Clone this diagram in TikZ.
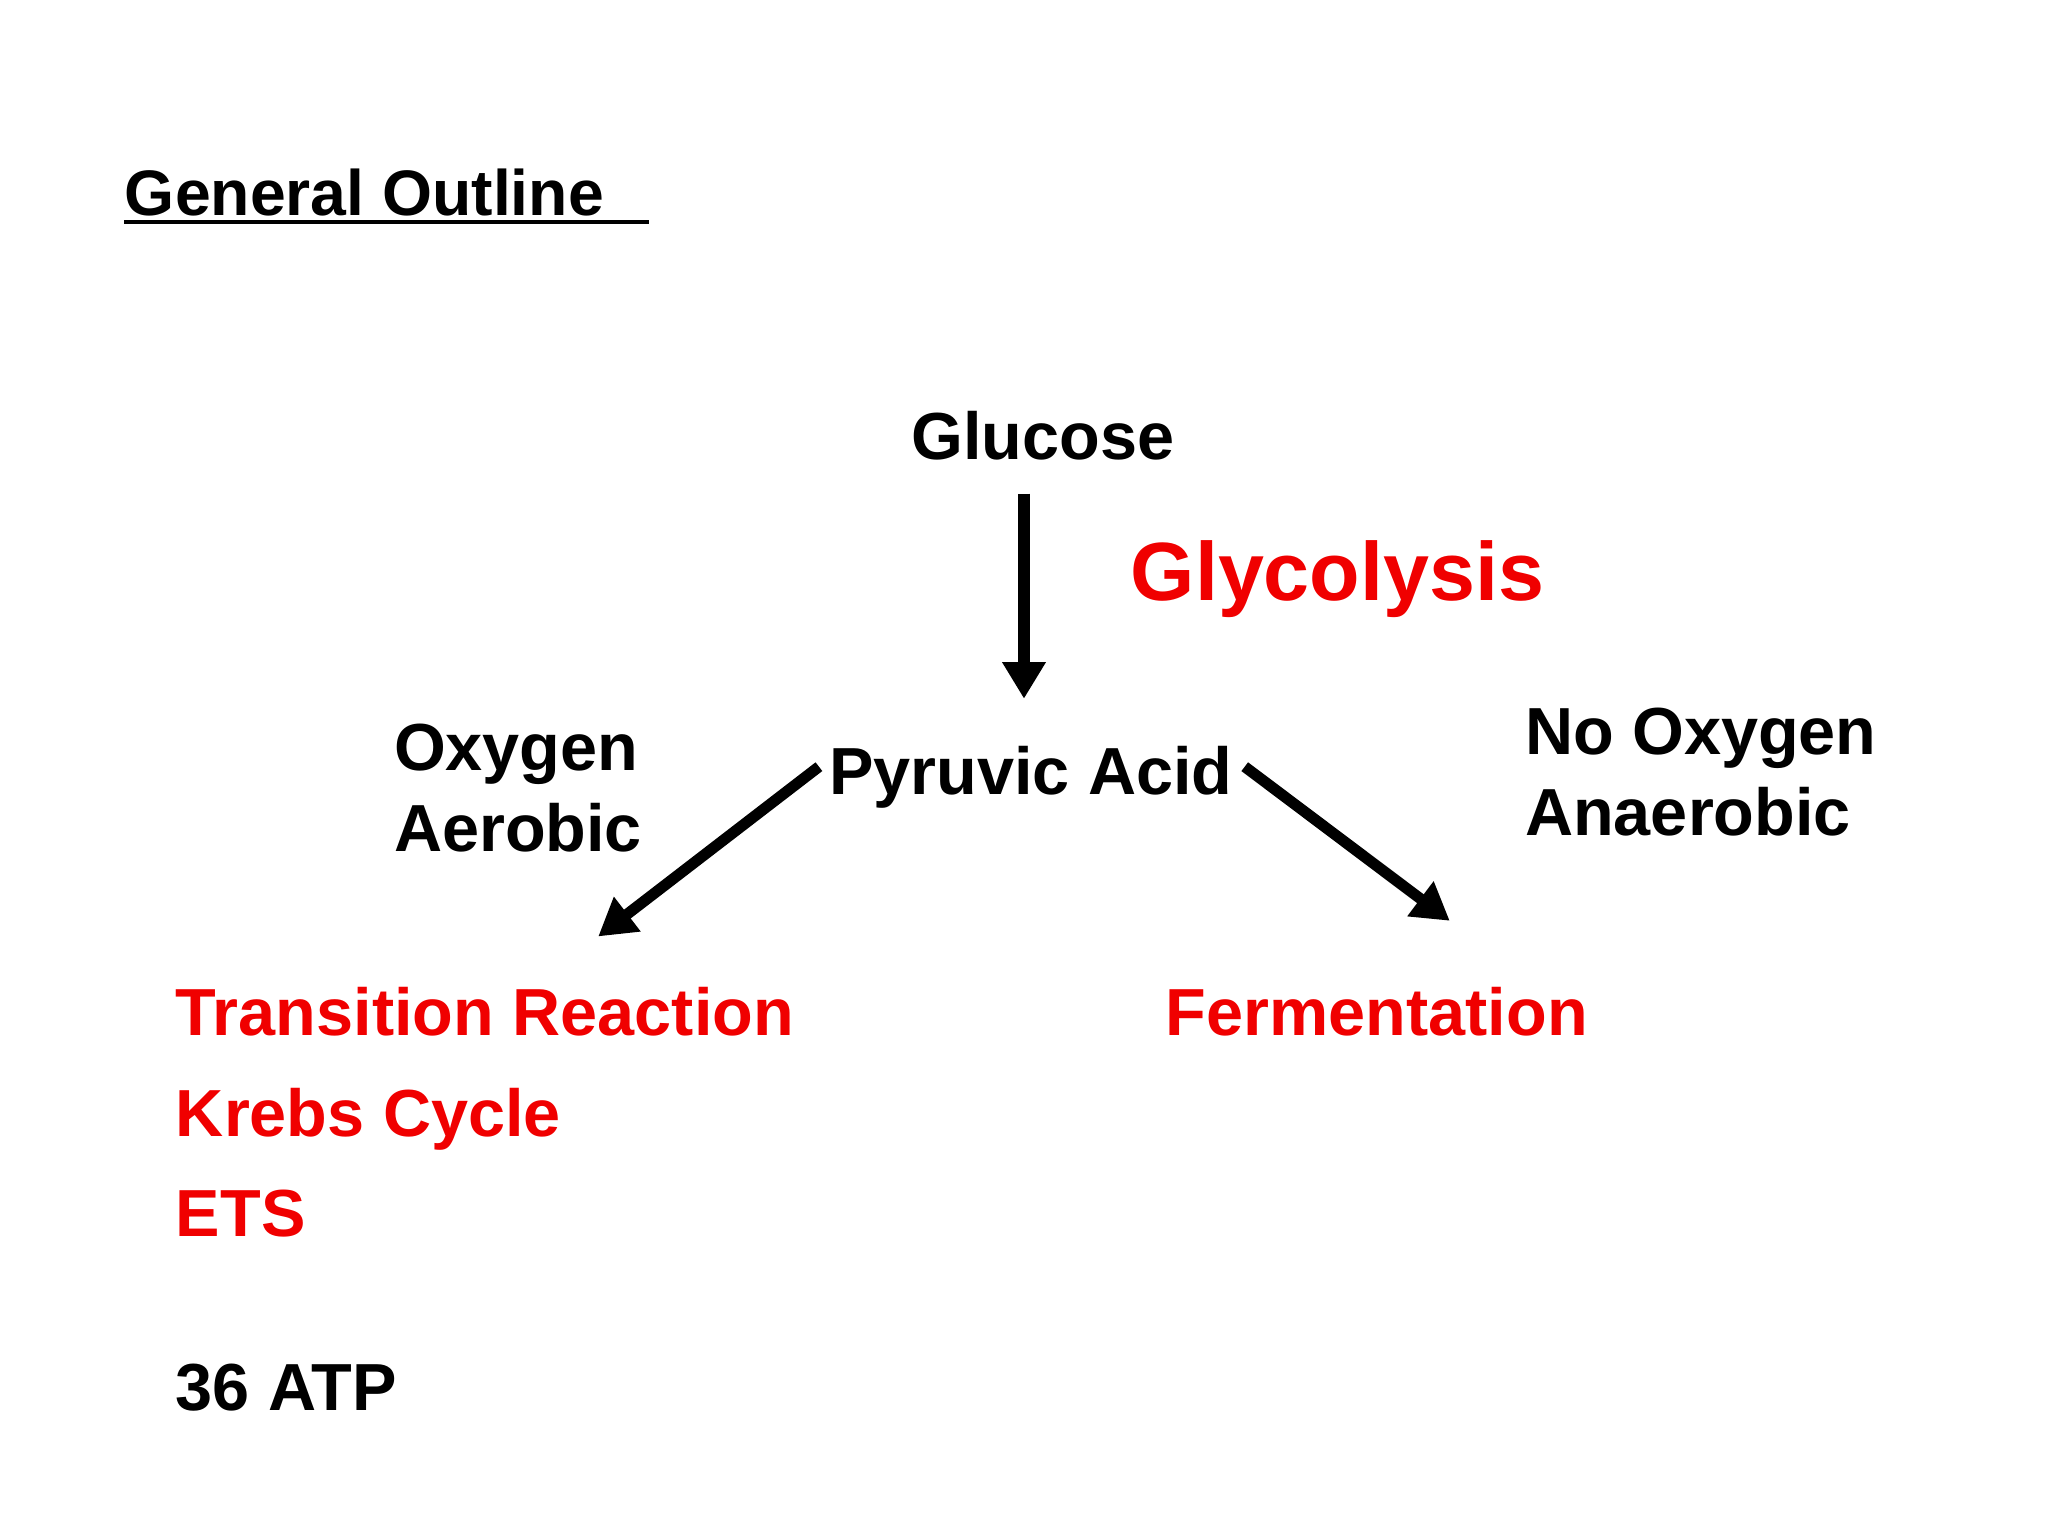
\documentclass[tikz,border=0pt]{standalone}
\usepackage{fontspec}
\setmainfont{Liberation Sans}
\usetikzlibrary{arrows.meta}
\definecolor{myred}{RGB}{240,0,0}
\begin{document}
\begin{tikzpicture}[x=0.01cm,y=-0.01cm,
  lbl/.style={anchor=base west,inner sep=0pt,font=\fontsize{14.5}{17}\selectfont\bfseries},
  redlbl/.style={lbl,text=myred},
  arr/.style={line width=2.4pt,-{Triangle[width=9pt,length=8pt]}}]
\useasboundingbox (0,0) rectangle (1568,1176);
\node[lbl,font=\fontsize{14}{17}\selectfont\bfseries] (title) at (95,165) {General Outline\ };
\draw[line width=0.8pt] (95,170) -- (497,170);
\node[lbl] (glu) at (697,352) {Glucose};
\node[redlbl,font=\fontsize{18}{21}\selectfont\bfseries] (gly) at (865,460) {Glycolysis};
\node[lbl] (pyr) at (634,608) {Pyruvic Acid};
\node[lbl] (oxy) at (301,590) {Oxygen};
\node[lbl] (aer) at (301,652) {Aerobic};
\node[lbl] (nox) at (1167,578) {No Oxygen};
\node[lbl] (ana) at (1167,640) {Anaerobic};
\node[redlbl] (tr) at (134,793) {Transition Reaction};
\node[redlbl] (kc) at (134,870) {Krebs Cycle};
\node[redlbl] (ets) at (134,947) {ETS};
\node[redlbl] (fer) at (892,793) {Fermentation};
\node[lbl] (atp) at (134,1080) {36 ATP};
\coordinate (g1) at (784,378);
\coordinate (g2) at (784,535);
\coordinate (p1) at (627,587);
\coordinate (p2) at (458,717);
\coordinate (p3) at (953,587);
\coordinate (p4) at (1110,705);
\draw[arr] (g1) -- (g2);
\draw[arr] (p1) -- (p2);
\draw[arr] (p3) -- (p4);
\end{tikzpicture}
\end{document}
